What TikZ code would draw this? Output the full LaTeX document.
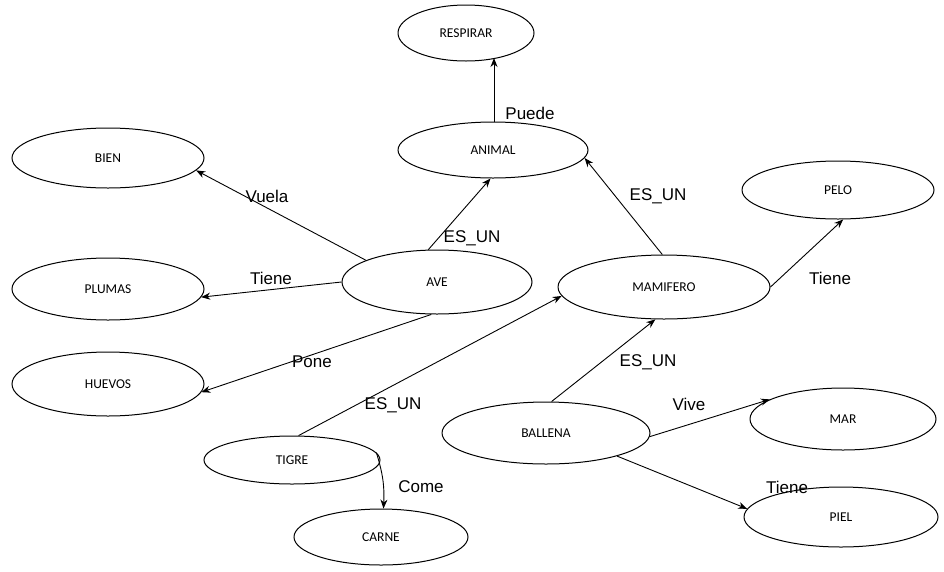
\documentclass[tikz,border=0pt]{standalone}
\usepackage{fontspec}
\setmainfont{Carlito}
\newfontfamily\labfont{Liberation Sans}
\usetikzlibrary{shapes.geometric,arrows.meta}
\tikzset{
  concept/.style={ellipse,draw,line width=1pt,inner sep=0pt,font=\fontsize{13.5}{15}\selectfont},
  rel/.style={-{Stealth[length=9pt,width=7pt]},line width=0.9pt},
  lab/.style={font=\labfont\fontsize{17}{19}\selectfont}
}
\begin{document}
\begin{tikzpicture}[x=1pt,y=-1pt]
\useasboundingbox (0,0) rectangle (944,571);
\node[concept,minimum width=136,minimum height=56] (respirar) at (466,33) {RESPIRAR};
\node[concept,minimum width=190,minimum height=56] (animal) at (493,150) {ANIMAL};
\node[concept,minimum width=192,minimum height=60] (bien) at (108,158) {BIEN};
\node[concept,minimum width=192,minimum height=58] (pelo) at (838,190) {PELO};
\node[concept,minimum width=190,minimum height=64] (ave) at (437,282) {AVE};
\node[concept,minimum width=212,minimum height=64] (mamifero) at (664,287) {MAMIFERO};
\node[concept,minimum width=192,minimum height=62] (plumas) at (108,289) {PLUMAS};
\node[concept,minimum width=192,minimum height=64] (huevos) at (108,384) {HUEVOS};
\node[concept,minimum width=208,minimum height=62] (ballena) at (546,433) {BALLENA};
\node[concept,minimum width=186,minimum height=62] (mar) at (843,419) {MAR};
\node[concept,minimum width=176,minimum height=48] (tigre) at (292,460) {TIGRE};
\node[concept,minimum width=194,minimum height=60] (piel) at (841,517) {PIEL};
\node[concept,minimum width=174,minimum height=56] (carne) at (381,537) {CARNE};

\coordinate (pu) at (494,122);
\coordinate (pr) at (494,58);
\draw[rel] (pu) -- (pr);
\draw[rel] (ave.163) -- (bien.-8);
\draw[rel] (ave.180) -- (plumas.-5);
\draw[rel] (ave.-100) -- (huevos.-5);
\draw[rel] (ave.105) -- (animal.-95);
\draw[rel] (mamifero.93) -- (animal.-5);
\draw[rel] (mamifero.0) -- (pelo.-80);
\draw[rel] (tigre.75) -- (mamifero.185);
\draw[rel] (ballena.80) -- (mamifero.-105);
\draw[rel] (ballena.-2) -- (mar.165);
\draw[rel] (ballena.-18) -- (piel.175);
\draw[rel] (tigre.5) to[bend left=10] (carne.85);

\node[lab] (l1) at (530,113) {Puede};
\node[lab] (l2) at (267,196) {Vuela};
\node[lab] (l3) at (271,278) {Tiene};
\node[lab] (l4) at (312,362) {Pone};
\node[lab] (l5) at (472,238) {ES\_UN};
\node[lab] (l6) at (658,196) {ES\_UN};
\node[lab] (l7) at (830,278) {Tiene};
\node[lab] (l8) at (393,405) {ES\_UN};
\node[lab] (l9) at (648,362) {ES\_UN};
\node[lab] (l10) at (689,404) {Vive};
\node[lab] (l11) at (787,487) {Tiene};
\node[lab] (l12) at (421,487) {Come};
\end{tikzpicture}
\end{document}
